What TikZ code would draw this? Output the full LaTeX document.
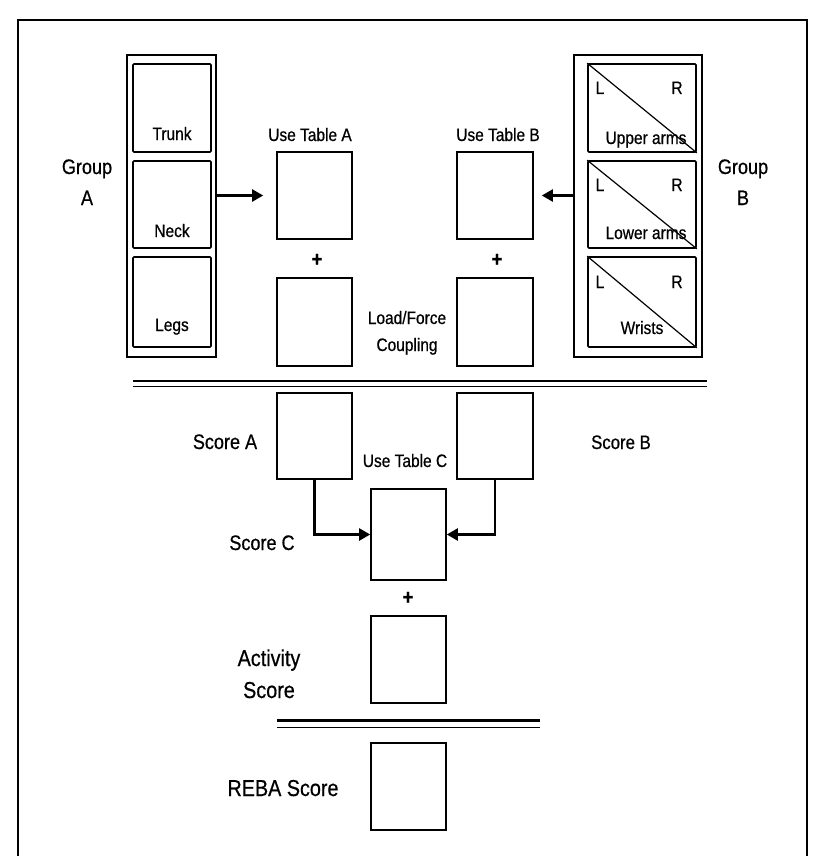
\documentclass[tikz,border=0pt]{standalone}
\usepackage{fontspec}
\setmainfont{Liberation Sans}[FakeStretch=0.86, FakeBold=0.6]
\usetikzlibrary{arrows.meta}
\tikzset{
  box/.style={draw, line width=1.6pt, inner sep=0pt, minimum width=75pt, minimum height=87pt},
  inbox/.style={draw, line width=1.6pt, inner sep=0pt, rounded corners=1pt},
  grpbox/.style={draw, line width=1.4pt, inner sep=0pt, minimum width=89pt, minimum height=302pt},
  lab/.style={inner sep=0pt, anchor=base, font=\fontsize{18}{21}\selectfont},
  biglab/.style={lab, font=\fontsize{21}{24}\selectfont},
  hugelab/.style={lab, font=\fontsize{23}{26}\selectfont},
  plus/.style={inner sep=0pt, anchor=center, font=\fontsize{21}{22}\selectfont\bfseries},
  arr/.style={line width=2.2pt, -{Triangle[length=11pt,width=12pt]}},
  diag/.style={line width=1.2pt},
  rule/.style={line width=1.8pt}
}
\begin{document}
\begin{tikzpicture}[x=1pt,y=-1pt]
\useasboundingbox (0,0) rectangle (815,856);
% outer frame
\draw[line width=1.5pt] (18,856) -- (18,20) -- (807,20) -- (807,856);

% Group A
\node[grpbox] (ga) at (171.5,206) {};
\node[inbox, minimum width=78pt, minimum height=88pt] (trunk) at (172,108) {};
\node[inbox, minimum width=78pt, minimum height=87pt] (neck) at (172,204.5) {};
\node[inbox, minimum width=78pt, minimum height=90pt] (legs) at (172,302) {};
\node[lab] (ttrunk) at (172,140) {Trunk};
\node[lab] (tneck) at (172,237) {Neck};
\node[lab] (tlegs) at (172,331) {Legs};
\node[biglab] (gA1) at (87,174) {Group};
\node[biglab] (gA2) at (87,205) {A};

% Group B
\node[grpbox, minimum width=128pt] (gb) at (638,206) {};
\node[inbox, minimum width=108pt, minimum height=88pt] (uarm) at (642,108) {};
\node[inbox, minimum width=108pt, minimum height=87pt] (larm) at (642,204.5) {};
\node[inbox, minimum width=108pt, minimum height=90pt] (wri) at (642,302) {};
\draw[diag] (uarm.north west) -- (uarm.south east);
\draw[diag] (larm.north west) -- (larm.south east);
\draw[diag] (wri.north west) -- (wri.south east);
\node[lab] (L1) at (600,94) {L};
\node[lab] (R1) at (677,94) {R};
\node[lab] (L2) at (600,191) {L};
\node[lab] (R2) at (677,191) {R};
\node[lab] (L3) at (600,288) {L};
\node[lab] (R3) at (677,288) {R};
\node[lab] (tuarm) at (646,144) {Upper arms};
\node[lab] (tlarm) at (646,239) {Lower arms};
\node[lab] (twri) at (642,334) {Wrists};
\node[biglab] (gB1) at (743,174) {Group};
\node[biglab] (gB2) at (743,205) {B};

% tables A and B
\node[box] (ta) at (314.5,195.5) {};
\node[box, minimum height=88pt] (la) at (314.5,322) {};
\node[box, minimum width=76pt] (tb) at (495,195.5) {};
\node[box, minimum width=76pt, minimum height=88pt] (lb) at (495,322) {};
\node[lab] (tta) at (310,141) {Use Table A};
\node[lab] (ttb) at (498,141) {Use Table B};
\node[plus] (p1) at (317,260) {+};
\node[plus] (p2) at (497,260) {+};
\node[lab] (tload1) at (407,324) {Load/Force};
\node[lab] (tload2) at (407,351) {Coupling};

\draw[arr, shorten >=13pt] (ga.east |- ta.west) -- (ta.west);
\draw[arr, shorten >=8pt] (gb.west |- tb.east) -- (tb.east);

% separator 1
\draw[rule] (133,381) -- (707,381);
\draw[rule] (133,386.5) -- (707,386.5);

% scores
\node[box, minimum height=86pt] (sa) at (314.5,436) {};
\node[box, minimum width=76pt, minimum height=86pt] (sb) at (495,436) {};
\node[box, minimum height=91pt] (tc) at (408.5,534.5) {};
\node[biglab] (tsa) at (225,449) {Score A};
\node[lab, font=\fontsize{19.5}{22}\selectfont] (tsb) at (621,449) {Score B};
\node[lab] (ttc) at (405,467) {Use Table C};
\node[biglab] (tsc) at (262,550) {Score C};
\draw[arr] (sa.south) |- (tc.west);
\draw[arr] (sb.south) |- (tc.east);
\node[plus] (p3) at (408,598) {+};

\node[box] (act) at (408.5,659.5) {};
\node[hugelab] (tact1) at (269,666) {Activity};
\node[hugelab] (tact2) at (269,698) {Score};

% separator 2
\draw[line width=3.5pt] (277,720.5) -- (540,720.5);
\draw[line width=1.5pt] (277,727.5) -- (540,727.5);

\node[box] (reba) at (408.5,786.5) {};
\node[hugelab] (treba) at (283,796) {REBA Score};
\end{tikzpicture}
\end{document}
